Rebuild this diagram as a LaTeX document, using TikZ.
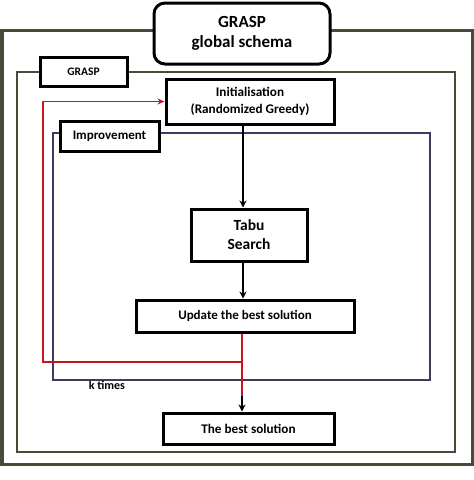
\documentclass[tikz,border=0pt]{standalone}
\usepackage{fontspec}
\setmainfont{Carlito}
\usetikzlibrary{arrows.meta}
\definecolor{olivefr}{HTML}{4A4A38}
\definecolor{navyfr}{HTML}{3C3C5E}
\definecolor{loopred}{HTML}{C8141E}
\tikzset{
  box/.style={draw=black,line width=3pt,fill=white,align=center,font=\bfseries,inner sep=0pt},
  arr/.style={line width=1.6pt,-{Stealth[length=7pt,width=7pt]}},
  redarr/.style={draw=loopred,line width=1.5pt,-{Stealth[length=7pt,width=6pt]}},
}
\begin{document}
\begin{tikzpicture}[x=1pt,y=-1pt]
\useasboundingbox (0,0) rectangle (474,480);
% frames
\draw[olivefr,line width=3pt] (2,30) rectangle (472,464);
\draw[olivefr,line width=2.3pt] (17,72) rectangle (455,452);
\draw[navyfr,line width=1.3pt] (53,133) rectangle (430,380);
% nodes
\node[box,rounded corners=11pt,minimum width=176pt,minimum height=61pt,font=\bfseries\fontsize{17}{20}\selectfont] (title) at (242,33.5) {GRASP\\global schema};
\node[box,minimum width=87pt,minimum height=29pt,font=\bfseries\fontsize{11.5}{14}\selectfont] (grasplabel) at (83.5,71.5) {GRASP};
\node[box,minimum width=168pt,minimum height=45pt,font=\bfseries\fontsize{13.2}{17}\selectfont] (init) at (250,101.5) {Initialisation\\(Randomized Greedy)};
\node[box,minimum width=99pt,minimum height=30pt,font=\bfseries\fontsize{13}{15}\selectfont] (improv) at (109.5,136) {Improvement};
\node[box,minimum width=116pt,minimum height=52pt,font=\bfseries\fontsize{15.5}{19}\selectfont] (tabu) at (249,235) {Tabu\\Search};
\node[box,minimum width=218pt,minimum height=32pt,font=\bfseries\fontsize{13}{15}\selectfont] (update) at (245,316) {Update the best solution};
\node[box,minimum width=171pt,minimum height=31pt,font=\bfseries\fontsize{13.2}{15}\selectfont] (best) at (248.5,428.5) {The best solution};
\node[font=\bfseries\fontsize{12}{14}\selectfont,inner sep=0pt] (ktimes) at (107,385) {k times};
% axes
\coordinate (axa) at (243,0);
\coordinate (axb) at (242,0);
\coordinate (lp) at (43,362);
\coordinate (redend) at (242,396);
% arrows
\draw[arr] (init.south -| axa) -- (tabu.north -| axa);
\draw[arr] (tabu.south -| axa) -- (update.north -| axa);
\draw[arr] (update.south -| axb) -- (best.north -| axb);
\draw[loopred,line width=1.5pt] (update.south -| axb) -- (redend);
\draw[redarr] (update.south -| axb) |- (lp) |- (init.west);
\end{tikzpicture}
\end{document}
